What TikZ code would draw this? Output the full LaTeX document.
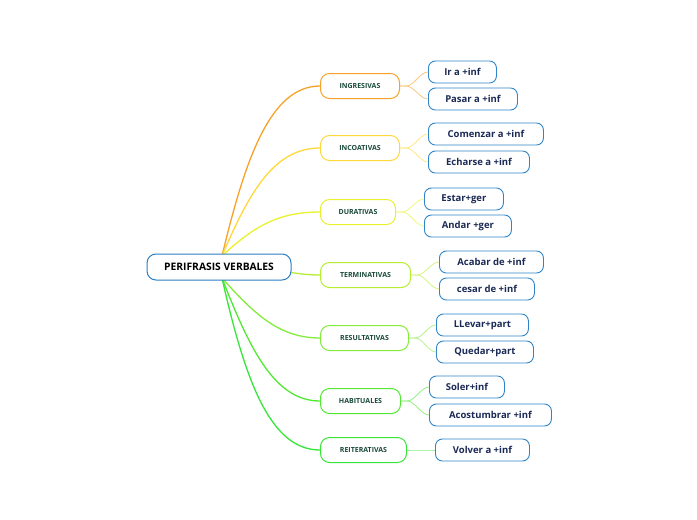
\documentclass[tikz,border=0pt]{standalone}
\usepackage{fontspec}
\setmainfont{Open Sans}
\begin{document}
\begin{tikzpicture}[x=1pt,y=-1pt,
  root/.style={draw=rootb,line width=1pt,rounded corners=9pt,fill=white,minimum height=26pt,minimum width=144pt,font=\fontsize{10.3}{12}\selectfont\bfseries,text=black,inner sep=0pt},
  cat/.style={draw=#1,line width=1pt,rounded corners=9pt,fill=white,minimum height=25pt,font=\fontsize{7}{8}\selectfont\bfseries,text=cattext,inner sep=0pt,anchor=west},
  leaf/.style={draw=leafb,line width=0.9pt,rounded corners=7pt,fill=white,minimum height=22pt,font=\fontsize{9.5}{11}\selectfont\bfseries,text=leaft,inner sep=0pt,anchor=west},
  br/.style={draw=#1,line width=1.3pt},
  lb/.style={draw=#1!60,line width=0.8pt}]
\definecolor{rootb}{HTML}{2B7FC4}
\definecolor{leafb}{HTML}{2E86C9}
\definecolor{leaft}{HTML}{1B2A55}
\definecolor{cattext}{HTML}{1A4A3A}
\definecolor{c1}{HTML}{F7A229}
\definecolor{c2}{HTML}{FFD83C}
\definecolor{c3}{HTML}{E9F22C}
\definecolor{c4}{HTML}{B6EE30}
\definecolor{c5}{HTML}{84EC3A}
\definecolor{c6}{HTML}{52E832}
\definecolor{c7}{HTML}{38E63A}
\useasboundingbox (0,0) rectangle (697,520);
\fill[white] (0,0) rectangle (697,520);
\coordinate (rt) at (222,256);
\coordinate (rb) at (222,278);
\coordinate (rr) at (288,272);
\coordinate (k1) at (320,86);
\coordinate (k2) at (320,148);
\coordinate (k3) at (320,212);
\coordinate (k4) at (320,275);
\coordinate (k5) at (320,338);
\coordinate (k6) at (320,401);
\coordinate (k7) at (320,450);
\draw[br=c1] (rt) .. controls (245,160) and (270,86) .. (k1);
\draw[br=c2] (rt) .. controls (250,190) and (275,148) .. (k2);
\draw[br=c3] (rt) .. controls (255,225) and (280,212) .. (k3);
\draw[br=c4] (rr) .. controls (300,274) and (310,275) .. (k4);
\draw[br=c5] (rb) .. controls (255,315) and (280,338) .. (k5);
\draw[br=c6] (rb) .. controls (250,350) and (275,401) .. (k6);
\draw[br=c7] (rb) .. controls (245,380) and (270,450) .. (k7);
\node[root] (root) at (219,267) {PERIFRASIS VERBALES};
\node[cat=c1,minimum width=79pt] (n1) at (k1) {INGRESIVAS};
\node[cat=c2,minimum width=79pt] (n2) at (k2) {INCOATIVAS};
\node[cat=c3,minimum width=75pt] (n3) at (k3) {DURATIVAS};
\node[cat=c4,minimum width=90pt] (n4) at (k4) {TERMINATIVAS};
\node[cat=c5,minimum width=88pt] (n5) at (k5) {RESULTATIVAS};
\node[cat=c6,minimum width=80pt] (n6) at (k6) {HABITUALES};
\node[cat=c7,minimum width=86pt] (n7) at (k7) {REITERATIVAS};
\node[leaf,minimum width=68pt] (l1) at (428,72) {Ir a +inf};
\node[leaf,minimum width=89pt] (l2) at (428,99) {Pasar a +inf};
\node[leaf,minimum width=115pt] (l3) at (428,134) {Comenzar a +inf};
\node[leaf,minimum width=101pt] (l4) at (428,162) {Echarse a +inf};
\node[leaf,minimum width=79pt] (l5) at (424,199) {Estar+ger};
\node[leaf,minimum width=87pt] (l6) at (424,226) {Andar +ger};
\node[leaf,minimum width=104pt] (l7) at (439,262) {Acabar de +inf};
\node[leaf,minimum width=95pt] (l8) at (439,289) {cesar de +inf};
\node[leaf,minimum width=92pt] (l9) at (436,325) {LLevar+part};
\node[leaf,minimum width=97pt] (l10) at (436,352) {Quedar+part};
\node[leaf,minimum width=75pt] (l11) at (429,387) {Soler+inf};
\node[leaf,minimum width=122pt] (l12) at (429,415) {Acostumbrar +inf};
\node[leaf,minimum width=94pt] (l13) at (435,450) {Volver a +inf};
\foreach \c/\a/\b in {n1/l1/c1,n1/l2/c1,n2/l3/c2,n2/l4/c2,n3/l5/c3,n3/l6/c3,n4/l7/c4,n4/l8/c4,n5/l9/c5,n5/l10/c5,n6/l11/c6,n6/l12/c6,n7/l13/c7}{
  \draw[lb=\b] (\c.east) -- ++(6,0) .. controls +(8,0) and +(-8,0) .. (\a.west);
}
\end{tikzpicture}
\end{document}
